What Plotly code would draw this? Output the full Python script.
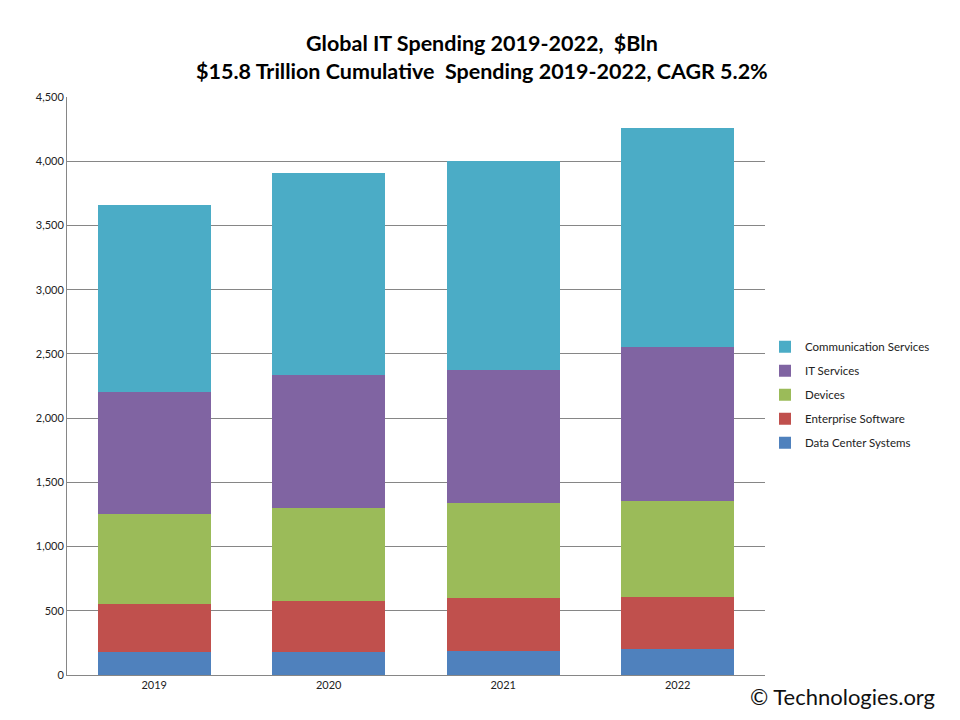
import plotly.graph_objects as go

years = ["2019", "2020", "2021", "2022"]
data_center = [181, 181, 187, 200]
enterprise_software = [372, 395, 415, 409]
devices = [703, 727, 740, 748]
it_services = [947, 1033, 1033, 1199]
communication_services = [1456, 1575, 1630, 1705]

series = [
    ("Data Center Systems", data_center, "#4F81BD"),
    ("Enterprise Software", enterprise_software, "#C0504D"),
    ("Devices", devices, "#9BBB59"),
    ("IT Services", it_services, "#8064A2"),
    ("Communication Services", communication_services, "#4BACC6"),
]

fig = go.Figure()
n = len(series)
for i, (name, vals, color) in enumerate(series):
    fig.add_trace(go.Bar(
        x=years, y=vals, name=name, marker_color=color,
        marker_line_width=0, legendgroup=name, legendrank=n - i,
    ))

fig.update_layout(
    barmode="stack",
    bargap=0.35,
    width=960, height=720,
    paper_bgcolor="white", plot_bgcolor="white",
    margin=dict(l=67, r=195, t=97, b=45),
    font=dict(family="Lato, Open Sans, sans-serif", size=11, color="#222222"),
    title=dict(
        text="Global IT Spending 2019-2022,  $Bln<br>$15.8 Trillion Cumulative  Spending 2019-2022, CAGR 5.2%",
        x=0.502, xref="container", xanchor="center",
        y=0.929, yref="container", yanchor="middle",
        font=dict(family="Lato, Open Sans, sans-serif", size=21.5, color="#000000", weight="bold"),
    ),
    legend=dict(
        x=1.0, xanchor="left", y=0.485, yanchor="middle",
        traceorder="grouped", tracegroupgap=5,
        font=dict(size=11.5, color="#222222"),
        itemclick=False,
    ),
    xaxis=dict(
        showline=True, linecolor="#868686", linewidth=1,
        ticks="", tickfont=dict(size=11, color="#222222"),
        showgrid=False,
    ),
    yaxis=dict(
        range=[0, 4500], dtick=500, tickformat=",d",
        showgrid=True, gridcolor="#868686", gridwidth=1,
        showline=True, linecolor="#868686", linewidth=1,
        zeroline=False, ticks="", ticklen=0,
        tickfont=dict(size=11, color="#222222"),
    ),
    annotations=[dict(
        text="© Technologies.org", xref="paper", yref="paper",
        x=1.247, y=-0.038, xanchor="right", yanchor="middle",
        showarrow=False,
        font=dict(family="Lato, Open Sans, sans-serif", size=22, color="#111111"),
    )],
)

fig.write_html("out.html")
